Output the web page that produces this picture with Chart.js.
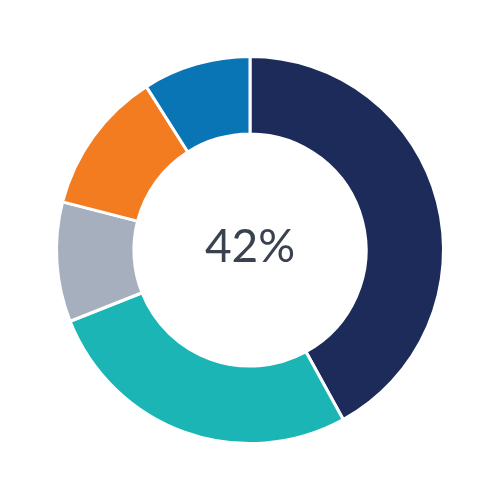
<!DOCTYPE html>
<html>
<head>
<meta charset="utf-8">
<script src="https://cdn.jsdelivr.net/npm/chart.js@4"></script>
<style>
  html, body { margin: 0; padding: 0; background: #fff; }
  #wrap { width: 500px; height: 500px; position: relative; }
</style>
</head>
<body>
<div id="wrap"><canvas id="donut"></canvas></div>
<script>
// Chart data
const categories = ['A', 'B', 'C', 'D', 'E']
const values = [42, 27, 10, 12, 9]
const sliceColors = ['#1c2b5a', '#1bb5b5', '#a6afbd', '#f47c20', '#0a75b5']
const centerLabel = '42%'

// Draw the big percentage in the hole
const centerText = {
  id: 'centerText',
  afterDraw(chart) {
    const { ctx } = chart
    const arc = chart.getDatasetMeta(0).data[0]
    ctx.save()
    ctx.font = '400 46px Lato, "Open Sans", sans-serif'
    ctx.fillStyle = '#3a4250'
    ctx.textAlign = 'center'
    ctx.textBaseline = 'middle'
    ctx.fillText(centerLabel, arc.x, arc.y - 3)
    ctx.restore()
  }
}

new Chart(document.getElementById('donut'), {
  type: 'doughnut',
  data: {
    labels: categories,
    datasets: [{
      data: values,
      backgroundColor: sliceColors,
      borderColor: '#ffffff',
      borderWidth: 3
    }]
  },
  options: {
    responsive: true,
    maintainAspectRatio: false,
    animation: false,
    cutout: '60%',
    layout: { padding: 55 },
    plugins: {
      legend: { display: false },
      tooltip: { enabled: false }
    }
  },
  plugins: [centerText]
})
</script>
</body>
</html>
